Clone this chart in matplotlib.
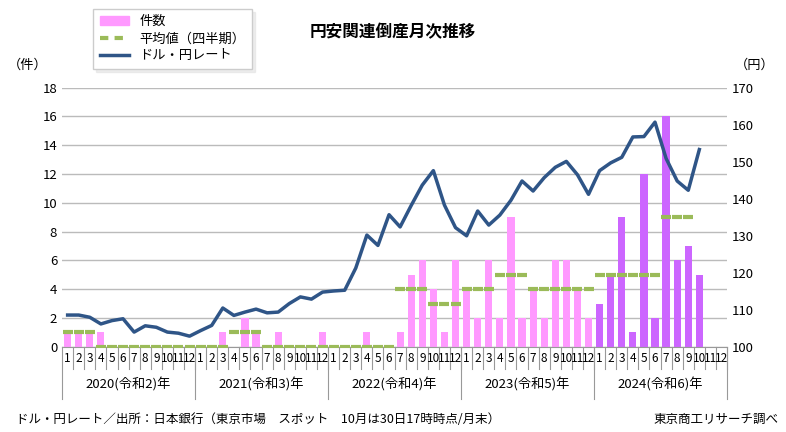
import matplotlib.pyplot as plt
from matplotlib.lines import Line2D
from matplotlib.patches import Patch

plt.rcParams['font.family'] = 'Noto Sans CJK JP'

years = ['2020(令和2)年', '2021(令和3)年', '2022(令和4)年', '2023(令和5)年', '2024(令和6)年']
months = [str(m) for m in range(1, 13)] * 5

counts = [1, 1, 1, 1, 0, 0, 0, 0, 0, 0, 0, 0,
          0, 0, 1, 0, 2, 1, 0, 1, 0, 0, 0, 1,
          0, 0, 0, 1, 0, 0, 1, 5, 6, 4, 1, 6,
          4, 2, 6, 2, 9, 2, 4, 2, 6, 6, 4, 2,
          3, 5, 9, 1, 12, 2, 16, 6, 7, 5]

quarter_avg = [1, 0, 0, 0,
               0, 1, 0, 0,
               0, 0, 4, 3,
               4, 5, 4, 4,
               5, 5, 9]

usdjpy = [108.6, 108.6, 108.0, 106.2, 107.1, 107.6, 104.0, 105.7, 105.3, 104.0, 103.7, 102.9,
          104.4, 105.8, 110.5, 108.5, 109.4, 110.2, 109.2, 109.4, 111.7, 113.5, 112.9, 114.8,
          115.1, 115.3, 121.3, 130.2, 127.4, 135.7, 132.4, 138.2, 143.7, 147.6, 138.3, 132.2,
          130.0, 136.7, 132.9, 135.6, 139.6, 144.8, 142.1, 145.7, 148.5, 150.1, 146.5, 141.2,
          147.6, 149.7, 151.2, 156.7, 156.8, 160.7, 150.9, 144.8, 142.3, 153.3]

fig = plt.figure(figsize=(7.86, 4.32), dpi=100)
ax = fig.add_axes([0.079, 0.197, 0.846, 0.6])
ax2 = ax.twinx()

x = list(range(len(counts)))
colors = ['#FF99FF' if i < 48 else '#CC66FF' for i in x]
ax.bar(x, counts, width=0.65, color=colors, zorder=2)

avg_x, avg_y = [], []
for q, v in enumerate(quarter_avg):
    for k in range(3):
        avg_x.append(q * 3 + k)
        avg_y.append(v)
ax.plot(avg_x, avg_y, ls='none', marker='_', markersize=7, mew=3, color='#9BBB59', zorder=3)

ax2.plot(range(len(usdjpy)), usdjpy, color='#2F5587', lw=2.5, zorder=4)

ax.set_xlim(-0.5, 59.5)
ax.set_ylim(0, 18)
ax.set_yticks(range(0, 19, 2))
ax2.set_ylim(100, 170)
ax2.set_yticks(range(100, 171, 10))
ax.yaxis.grid(True, color='#BBBBBB', lw=1, zorder=0)
ax.set_axisbelow(True)
for a in (ax, ax2):
    for s in a.spines.values():
        s.set_visible(False)
    a.tick_params(length=0, labelsize=9.5)
ax.set_xticks([])
ax.spines['bottom'].set_visible(True)
ax.spines['bottom'].set_color('#999999')

tr = ax.get_xaxis_transform()
for i, m in enumerate(months):
    ax.text(i, -0.045, m, transform=tr, ha='center', va='center', fontsize=8.5)
    ax.plot([i + 0.5, i + 0.5], [0, -0.085], transform=tr, color='#999999', lw=0.8, clip_on=False)
ax.plot([-0.5, -0.5], [0, -0.2], transform=tr, color='#999999', lw=0.8, clip_on=False)
for k, yl in enumerate(years):
    ax.text(k * 12 + 5.5, -0.145, yl, transform=tr, ha='center', va='center', fontsize=9.5)
    ax.plot([k * 12 + 11.5] * 2, [0, -0.2], transform=tr, color='#999999', lw=0.8, clip_on=False)

fig.text(0.5, 0.925, '円安関連倒産月次推移', ha='center', va='center', fontsize=12, fontweight='bold')
fig.text(0.035, 0.85, '（件）', ha='center', va='center', fontsize=9.5)
fig.text(0.96, 0.85, '（円）', ha='center', va='center', fontsize=9.5)
fig.text(0.02, 0.028, 'ドル・円レート／出所：日本銀行（東京市場　スポット　10月は30日17時時点/月末）',
         ha='left', va='center', fontsize=9)
fig.text(0.99, 0.028, '東京商工リサーチ調べ', ha='right', va='center', fontsize=9)

handles = [Patch(color='#FF99FF'),
           Line2D([], [], color='#9BBB59', lw=3, ls=(0, (2, 1.5))),
           Line2D([], [], color='#2F5587', lw=2.5)]
fig.legend(handles, ['件数', '平均値（四半期）', 'ドル・円レート'], loc='upper left',
           bbox_to_anchor=(0.11, 0.995), fontsize=9.5, frameon=True, fancybox=False,
           shadow={'color': '#DDDDDD'}, edgecolor='#CCCCCC', handlelength=2.2,
           labelspacing=0.3, borderpad=0.5)

fig.savefig('out.png', dpi=100)
